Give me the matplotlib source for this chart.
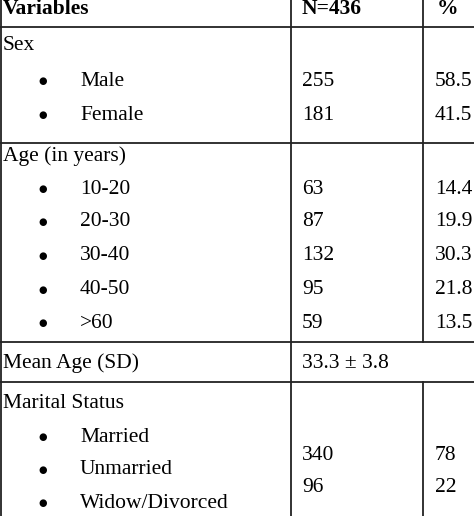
import matplotlib.pyplot as plt

W, H = 474, 516

headers = ["Variables", "N=436", "%"]
# (label, y, is_bullet, n, pct)
rows = [
    ("Sex", 45, False, "", ""),
    ("Male", 81, True, "255", "58.5"),
    ("Female", 115, True, "181", "41.5"),
    ("Age (in years)", 156, False, "", ""),
    ("10-20", 189, True, "63", "14.4"),
    ("20-30", 222, True, "87", "19.9"),
    ("30-40", 256, True, "132", "30.3"),
    ("40-50", 290, True, "95", "21.8"),
    (">60", 323, True, "59", "13.5"),
    ("Mean Age (SD)", 363, False, "33.3 \u00b1 3.8", ""),
    ("Marital Status", 404, False, "", ""),
    ("Married", 437, True, "", ""),
    ("Unmarried", 470, True, "", ""),
    ("Widow/Divorced", 503, True, "", ""),
]
marital_vals = [("340", "78", 455), ("96", "22", 488)]

fig = plt.figure(figsize=(W / 100, H / 100), dpi=100)
ax = fig.add_axes([0, 0, 1, 1])
ax.set_xlim(0, W)
ax.set_ylim(H, 0)
ax.axis("off")

font = dict(family="Liberation Serif", fontsize=15.5, va="center", color="black")
lw = 1.3
c1, c2 = 291, 423

# table rules
for y in [27, 143, 342, 382]:
    ax.plot([0, W], [y, y], color="#222222", lw=lw)
ax.plot([1, 1], [0, H], color="#222222", lw=lw)
ax.plot([c1, c1], [0, H], color="#222222", lw=lw)
ax.plot([c2, c2], [0, 342], color="#222222", lw=lw)
ax.plot([c2, c2], [382, H], color="#222222", lw=lw)

ax.text(3, 9, headers[0], fontweight="bold", **font)
ax.text(302, 9, headers[1], fontweight="bold", **font)
ax.text(437, 9, headers[2], fontweight="bold", **font)

for label, y, bullet, n, pct in rows:
    if bullet:
        ax.text(38, y, "\u25cf", family="DejaVu Sans", fontsize=7,
                va="center", color="black")
        ax.text(80, y, label, **font)
    else:
        ax.text(3, y, label, **font)
    if n:
        ax.text(302, y, n, **font)
    if pct:
        ax.text(435, y, pct, clip_on=True, **font)

for n, pct, y in marital_vals:
    ax.text(302, y, n, **font)
    ax.text(435, y, pct, **font)

fig.savefig("out.png", dpi=100)
